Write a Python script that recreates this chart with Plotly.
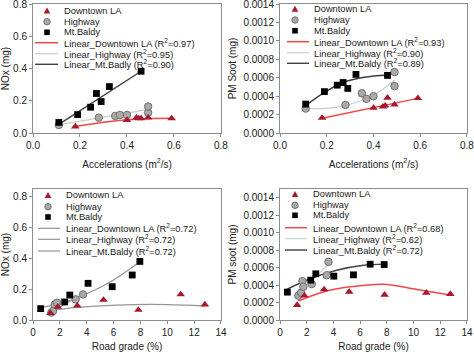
import plotly.graph_objects as go

# ---------------- data ----------------
# Panel 1: NOx vs accelerations
acc_la = [0.18, 0.40, 0.44, 0.45, 0.46, 0.49, 0.59]
nox_acc_la = [0.040, 0.080, 0.095, 0.090, 0.090, 0.095, 0.090]
acc_hw = [0.11, 0.28, 0.35, 0.37, 0.40, 0.49, 0.49]
nox_acc_hw = [0.050, 0.095, 0.106, 0.112, 0.112, 0.126, 0.164]
acc_mb = [0.11, 0.19, 0.245, 0.27, 0.29, 0.325, 0.46]
nox_acc_mb = [0.066, 0.114, 0.160, 0.245, 0.195, 0.288, 0.383]
fit1_la_x = [0.18, 0.30, 0.40, 0.50, 0.59]
fit1_la_y = [0.040, 0.066, 0.082, 0.090, 0.092]
fit1_hw_x = [0.11, 0.49]
fit1_hw_y = [0.050, 0.146]
fit1_mb_x = [0.11, 0.46]
fit1_mb_y = [0.054, 0.383]

# Panel 2: PM soot vs accelerations
soot_acc_la = [0.000163, 0.000272, 0.000286, 0.000297, 0.000382, 0.000307, 0.000378]
soot_acc_hw = [0.000265, 0.000304, 0.000431, 0.000371, 0.000399, 0.000509, 0.000661]
soot_acc_mb = [0.000314, 0.000449, 0.000519, 0.000548, 0.000484, 0.000636, 0.000625]
fit2_la_x = [0.18, 0.59]
fit2_la_y = [0.000160, 0.000376]
fit2_hw_x = [0.11, 0.20, 0.28, 0.40, 0.49]
fit2_hw_y = [0.000265, 0.000268, 0.000300, 0.000410, 0.000575]
fit2_mb_x = [0.11, 0.19, 0.27, 0.36, 0.46]
fit2_mb_y = [0.000297, 0.000440, 0.000548, 0.000605, 0.000630]

# Panel 3: NOx vs road grade
rg_la = [1.3, 1.85, 3.3, 5.25, 7.85, 11.0, 12.8]
nox_rg_la = [0.045, 0.086, 0.093, 0.130, 0.065, 0.166, 0.100]
rg_hw3 = [1.37, 1.49, 1.62, 1.79, 3.18, 3.73]
nox_rg_hw = [0.048, 0.058, 0.100, 0.112, 0.134, 0.166]
rg_mb3 = [0.57, 2.36, 2.74, 4.1, 5.9, 7.39, 7.96]
nox_rg_mb = [0.074, 0.117, 0.162, 0.238, 0.216, 0.292, 0.380]
fit3_la_x = [1.3, 3.0, 5.0, 7.5, 10.0, 12.8]
fit3_la_y = [0.060, 0.080, 0.092, 0.100, 0.100, 0.092]
fit3_hw_x = [1.3, 3.8]
fit3_hw_y = [0.050, 0.172]
fit3_mb_x = [0.5, 2.0, 4.0, 6.0, 7.9]
fit3_mb_y = [0.082, 0.105, 0.170, 0.260, 0.375]

# Panel 4: PM soot vs road grade
rg_la4 = [1.28, 1.83, 3.3, 5.18, 7.83, 10.95, 12.75]
soot_rg_la = [0.000171, 0.000278, 0.000350, 0.000323, 0.000289, 0.000312, 0.000297]
rg_hw4 = [1.37, 1.58, 1.68, 1.75, 2.38, 3.5, 3.63]
soot_rg_hw = [0.000278, 0.000312, 0.000445, 0.000380, 0.000411, 0.000513, 0.000665]
rg_mb4 = [0.55, 2.3, 2.68, 4.03, 5.5, 6.75, 7.8]
soot_rg_mb = [0.000319, 0.000456, 0.000529, 0.000502, 0.000517, 0.000639, 0.000635]
fit4_la_x = [1.37, 3.3, 5.25, 7.75, 10.25, 12.75]
fit4_la_y = [0.000217, 0.000323, 0.000380, 0.000410, 0.000350, 0.000285]
fit4_hw_x = [1.37, 3.63]
fit4_hw_y = [0.000300, 0.000640]
fit4_mb_x = [0.4, 2.3, 4.25, 6.25, 7.8]
fit4_mb_y = [0.000342, 0.000475, 0.000570, 0.000627, 0.000640]

legend1 = ["Downtown LA", "Highway", "Mt.Baldy",
           "Linear_Downtown LA (R<sup>2</sup>=0.97)", "Linear_Highway (R<sup>2</sup>=0.95)",
           "Linear_Mt.Badly (R<sup>2</sup>=0.90)"]
legend2 = ["Downtown LA", "Highway", "Mt.Baldy",
           "Linear_Downtown LA (R<sup>2</sup>=0.93)", "Linear_Highway (R<sup>2</sup>=0.90)",
           "Linear_Mt.Baldy (R<sup>2</sup>=0.89)"]
legend3 = ["Downtown LA", "Highway", "Mt.Baldy",
           "Linear_Downtown LA (R<sup>2</sup>=0.72)", "Linear_Highway (R<sup>2</sup>=0.72)",
           "Linear_Mt.Baldy (R<sup>2</sup>=0.72)"]
legend4 = ["Downtown LA", "Highway", "Mt.Baldy",
           "Linear_Downtown LA (R<sup>2</sup>=0.68)", "Linear_Highway (R<sup>2</sup>=0.62)",
           "Linear_Mt.Baldy (R<sup>2</sup>=0.72)"]

# ---------------- styles ----------------
W, H = 474, 352
FONT = "Liberation Sans, Arial, sans-serif"
C_LA = "#a8182c"
C_HW_FILL = "#a9a9a9"
C_HW_EDGE = "#707070"
C_MB = "#000000"
L_LA = "#f04848"
L_HW = "#c8cec8"
L_MB = "#404040"
L_GRAY = "#959595"
AXC = "#8c8c8c"

def px(x):
    return x / W

def py(y):
    return 1 - y / H

fig = go.Figure()

panels = [
    dict(ax="", xs=(acc_la, acc_hw, acc_mb), ys=(nox_acc_la, nox_acc_hw, nox_acc_mb),
         fits=((fit1_la_x, fit1_la_y, L_LA, 1.5), (fit1_hw_x, fit1_hw_y, L_HW, 1.2), (fit1_mb_x, fit1_mb_y, L_MB, 1.4))),
    dict(ax="2", xs=(acc_la, acc_hw, acc_mb), ys=(soot_acc_la, soot_acc_hw, soot_acc_mb),
         fits=((fit2_la_x, fit2_la_y, L_LA, 1.5), (fit2_hw_x, fit2_hw_y, L_HW, 1.2), (fit2_mb_x, fit2_mb_y, L_MB, 1.4))),
    dict(ax="3", xs=(rg_la, rg_hw3, rg_mb3), ys=(nox_rg_la, nox_rg_hw, nox_rg_mb),
         fits=((fit3_la_x, fit3_la_y, L_GRAY, 1.2), (fit3_hw_x, fit3_hw_y, L_GRAY, 1.2), (fit3_mb_x, fit3_mb_y, L_GRAY, 1.2))),
    dict(ax="4", xs=(rg_la4, rg_hw4, rg_mb4), ys=(soot_rg_la, soot_rg_hw, soot_rg_mb),
         fits=((fit4_la_x, fit4_la_y, L_LA, 1.5), (fit4_hw_x, fit4_hw_y, L_HW, 1.2), (fit4_mb_x, fit4_mb_y, L_MB, 1.4))),
]

for p in panels:
    xa, ya = "x" + p["ax"], "y" + p["ax"]
    for fx, fy, col, w in p["fits"]:
        fig.add_trace(go.Scatter(x=fx, y=fy, mode="lines", line=dict(color=col, width=w, shape="spline", smoothing=1.0),
                                 xaxis=xa, yaxis=ya, showlegend=False, hoverinfo="skip"))
    fig.add_trace(go.Scatter(x=p["xs"][1], y=p["ys"][1], mode="markers",
                             marker=dict(symbol="circle", size=7.5, color=C_HW_FILL, line=dict(color=C_HW_EDGE, width=1)),
                             xaxis=xa, yaxis=ya, showlegend=False))
    fig.add_trace(go.Scatter(x=p["xs"][2], y=p["ys"][2], mode="markers",
                             marker=dict(symbol="square", size=6.8, color=C_MB),
                             xaxis=xa, yaxis=ya, showlegend=False))
    fig.add_trace(go.Scatter(x=p["xs"][0], y=p["ys"][0], mode="markers",
                             marker=dict(symbol="triangle-up", size=7.5, color=C_LA),
                             xaxis=xa, yaxis=ya, showlegend=False))

# ---------------- axes ----------------
xl = [33 / W, 221 / W]
xr = [280 / W, 467 / W]
yt = [1 - 133 / H, 1 - 4 / H]
yb = [1 - 320 / H, 1 - 189 / H]

def xaxis(dom, rng, dtick, fmt, title, anchor, standoff):
    return dict(domain=dom, range=rng, dtick=dtick, tick0=0, tickformat=fmt, anchor=anchor, automargin=False,
                showline=True, linecolor=AXC, linewidth=1, mirror=True, showgrid=False, zeroline=False,
                ticks="outside", ticklen=3, tickcolor=AXC, tickfont=dict(size=10, color="#222"),
                ticklabeloverflow="allow",
                title=dict(text=title, font=dict(size=10, color="#222"), standoff=standoff))

def yaxis(dom, rng, dtick, fmt, title, anchor):
    return dict(domain=dom, range=rng, dtick=dtick, tick0=0, tickformat=fmt, anchor=anchor, automargin=False,
                showline=True, linecolor=AXC, linewidth=1, mirror=True, showgrid=False, zeroline=False,
                ticks="outside", ticklen=3, tickcolor=AXC, tickfont=dict(size=10, color="#222"),
                ticklabeloverflow="allow",
                title=dict(text=title, font=dict(size=10, color="#222"), standoff=4))

fig.update_layout(
    width=W, height=H, margin=dict(l=0, r=0, t=0, b=0, autoexpand=False),
    paper_bgcolor="white", plot_bgcolor="white",
    font=dict(family=FONT, size=10, color="#222"),
    showlegend=False,
    xaxis=xaxis(xl, [0, 0.8001], 0.2, ".1f", "Accelerations (m<sup>2</sup>/s)", "y", 10),
    yaxis=yaxis(yt, [0, 0.8001], 0.2, ".1f", "NOx (mg)", "x"),
    xaxis2=xaxis(xr, [0, 0.8001], 0.2, ".1f", "Accelerations (m<sup>2</sup>/s)", "y2", 10),
    yaxis2=yaxis(yt, [0, 0.0014001], 0.0002, ".4f", "PM Soot (mg)", "x2"),
    xaxis3=xaxis(xl, [0, 14.001], 2, "d", "Road grade (%)", "y3", 6),
    yaxis3=yaxis(yb, [0, 0.85], 0.2, ".1f", "NOx (mg)", "x3"),
    xaxis4=xaxis(xr, [0, 14.001], 2, "d", "Road grade (%)", "y4", 6),
    yaxis4=yaxis(yb, [0, 0.0015], 0.0002, ".4f", "PM soot (mg)", "x4"),
)

# ---------------- manual legends ----------------
def add_legend(labels, sym_x, lx0, lx1, tx, ys, line_cols):
    shapes = []
    anns = []
    y0 = ys[0]
    s = 3.3
    shapes.append(dict(type="path", xref="paper", yref="paper",
                       path=f"M {px(sym_x - s)} {py(y0 + s * 0.85)} L {px(sym_x + s)} {py(y0 + s * 0.85)} L {px(sym_x)} {py(y0 - s)} Z",
                       fillcolor=C_LA, line=dict(width=0)))
    r = 3.2
    shapes.append(dict(type="circle", xref="paper", yref="paper",
                       x0=px(sym_x - r), x1=px(sym_x + r), y0=py(ys[1] + r), y1=py(ys[1] - r),
                       fillcolor=C_HW_FILL, line=dict(color=C_HW_EDGE, width=1)))
    q = 2.8
    shapes.append(dict(type="rect", xref="paper", yref="paper",
                       x0=px(sym_x - q), x1=px(sym_x + q), y0=py(ys[2] + q), y1=py(ys[2] - q),
                       fillcolor=C_MB, line=dict(width=0)))
    for i in range(3):
        col, w = line_cols[i]
        shapes.append(dict(type="line", xref="paper", yref="paper",
                           x0=px(lx0), x1=px(lx1), y0=py(ys[3 + i]), y1=py(ys[3 + i]),
                           line=dict(color=col, width=w)))
    for lab, yy in zip(labels, ys):
        anns.append(dict(text=lab, xref="paper", yref="paper", x=px(tx), y=py(yy),
                         xanchor="left", yanchor="middle", showarrow=False,
                         font=dict(size=9.3, family=FONT, color="#222")))
    return shapes, anns

all_shapes, all_anns = [], []
std_cols = [(L_LA, 1.5), (L_HW, 1.2), (L_MB, 1.4)]
gray_cols = [(L_GRAY, 1.2), (L_GRAY, 1.2), (L_GRAY, 1.2)]
for args in [
    (legend1, 47, 35, 58, 62, [10.7, 21.7, 32.3, 42.7, 53.7, 64.3], std_cols),
    (legend2, 295, 287, 309, 312, [9.0, 20.0, 30.7, 41.7, 52.7, 63.3], std_cols),
    (legend3, 48, 38, 60, 64, [195.3, 206.7, 217.0, 228.3, 239.3, 251.0], gray_cols),
    (legend4, 295, 285, 307, 311, [194.3, 205.3, 215.3, 227.7, 238.7, 250.0], std_cols),
]:
    sh, an = add_legend(*args)
    all_shapes += sh
    all_anns += an

fig.update_layout(shapes=all_shapes, annotations=all_anns)

fig.write_html("out.html")
